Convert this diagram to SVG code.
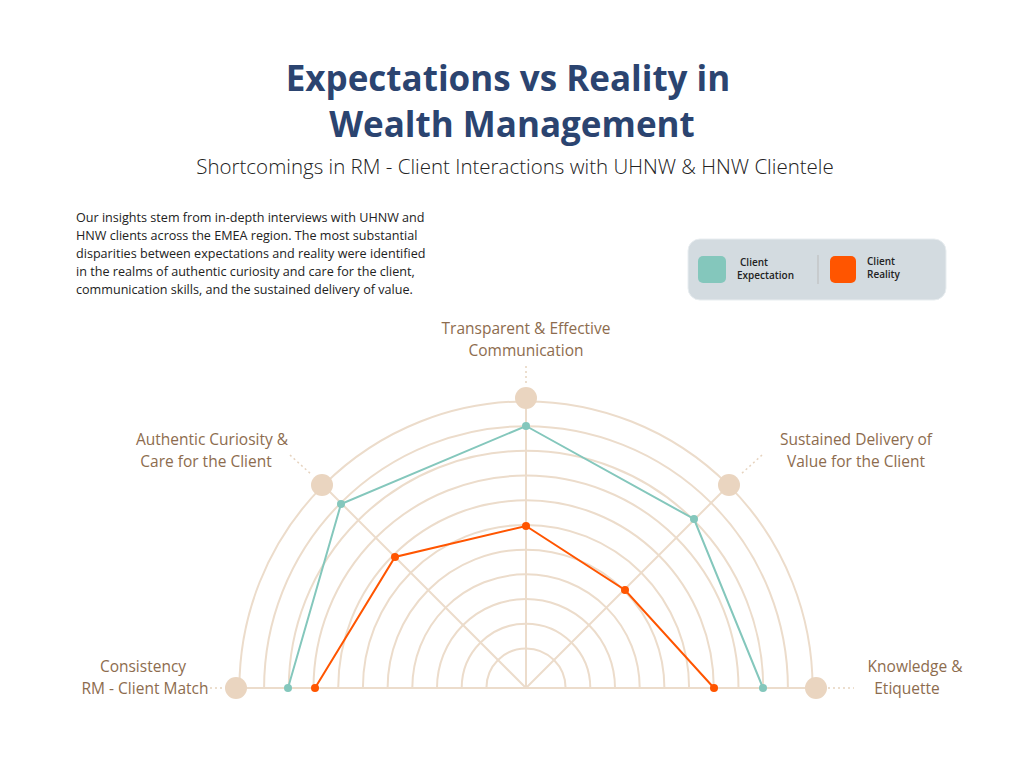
<svg xmlns="http://www.w3.org/2000/svg" width="1024" height="768" viewBox="0 0 1024 768">
<style>
.t{font-family:"Open Sans","Liberation Sans",sans-serif}
.ring{fill:none;stroke:#ecdccb;stroke-width:2}
.lab{font-family:"Open Sans","Liberation Sans",sans-serif;font-size:15.5px;fill:#8d6c4e;text-anchor:middle}
.lead{stroke:#e6d3bf;stroke-width:1.5;stroke-dasharray:2 3}
.big{fill:#ead5c0}
</style>
<rect width="1024" height="768" fill="#fff"/>
<g id="title">
<text class="t" x="508" y="91" font-size="35" font-weight="bold" fill="#2b4470" text-anchor="middle">Expectations vs Reality in</text>
<text class="t" x="512" y="137" font-size="35" font-weight="bold" fill="#2b4470" text-anchor="middle">Wealth Management</text>
<text class="t" x="515" y="174" font-size="20.5" font-weight="300" fill="#222" text-anchor="middle">Shortcomings in RM - Client Interactions with UHNW &amp; HNW Clientele</text>
</g>
<g id="intro" class="t" font-size="12.6" fill="#222">
<text x="76" y="222">Our insights stem from in-depth interviews with UHNW and</text>
<text x="76" y="240">HNW clients across the EMEA region. The most substantial</text>
<text x="76" y="258">disparities between expectations and reality were identified</text>
<text x="76" y="276">in the realms of authentic curiosity and care for the client,</text>
<text x="76" y="294">communication skills, and the sustained delivery of value.</text>
</g>
<g id="legend">
<rect x="688" y="239" width="258" height="61" rx="12" fill="#d3dbe0" stroke="#e8edf0"/>
<rect x="698" y="256" width="28" height="27" rx="5" fill="#84c7bc"/>
<text class="t" x="740" y="266" font-size="10" font-weight="600" fill="#222">Client</text>
<text class="t" x="737" y="279" font-size="10" font-weight="600" fill="#222">Expectation</text>
<line x1="818" y1="255" x2="818" y2="284" stroke="#bbb"/>
<rect x="830" y="256" width="26" height="27" rx="5" fill="#ff5500"/>
<text class="t" x="867" y="265" font-size="10" font-weight="600" fill="#222">Client</text>
<text class="t" x="867" y="278" font-size="10" font-weight="600" fill="#222">Reality</text>
</g>
<g id="grid">
<path class="ring" d="M486.4 688A39.6 39.6 0 0 1 565.6 688M461.7 688A64.3 64.3 0 0 1 590.3 688M437 688A89 89 0 0 1 615 688M412.3 688A113.7 113.7 0 0 1 639.7 688M387.6 688A138.4 138.4 0 0 1 664.4 688M362.9 688A163.1 163.1 0 0 1 689.1 688M338.2 688A187.8 187.8 0 0 1 713.8 688M313.5 688A212.5 212.5 0 0 1 738.5 688M288.8 688A237.2 237.2 0 0 1 763.2 688M264.1 688A261.9 261.9 0 0 1 787.9 688M239.4 688A286.6 286.6 0 0 1 812.6 688"/>
<path class="ring" d="M236 688H816M526 688V398M526 688L321 483M526 688L731 483"/>
</g>
<g id="axes">
<line class="lead" x1="210" y1="688" x2="226" y2="688"/>
<line class="lead" x1="828" y1="688" x2="854" y2="688"/>
<line class="lead" x1="526" y1="366" x2="526" y2="386"/>
<line class="lead" x1="290" y1="455" x2="312" y2="475"/>
<line class="lead" x1="762" y1="455" x2="740" y2="475"/>
<circle class="big" cx="236" cy="688" r="11"/>
<circle class="big" cx="816" cy="688" r="11"/>
<circle class="big" cx="526" cy="398" r="11"/>
<circle class="big" cx="322" cy="485" r="11"/>
<circle class="big" cx="729" cy="485" r="11"/>
<text class="lab" x="143" y="672">Consistency</text>
<text class="lab" x="145" y="694">RM - Client Match</text>
<text class="lab" x="915" y="672">Knowledge &amp;</text>
<text class="lab" x="907" y="694">Etiquette</text>
<text class="lab" x="526" y="334">Transparent &amp; Effective</text>
<text class="lab" x="526" y="356">Communication</text>
<text class="lab" x="212" y="445">Authentic Curiosity &amp;</text>
<text class="lab" x="206" y="467">Care for the Client</text>
<text class="lab" x="856" y="445">Sustained Delivery of</text>
<text class="lab" x="856" y="467">Value for the Client</text>
</g>
<g id="connectors">
<polyline points="288,688 341,504 526,426 694,519 763,688" fill="none" stroke="#84c7bc" stroke-width="2"/>
<polyline points="315,688 395,557 526,526 625,590 714,688" fill="none" stroke="#ff5500" stroke-width="2"/>
<g fill="#84c7bc"><circle cx="288" cy="688" r="4"/><circle cx="341" cy="504" r="4"/><circle cx="526" cy="426" r="4"/><circle cx="694" cy="519" r="4"/><circle cx="763" cy="688" r="4"/></g>
<g fill="#ff5500"><circle cx="315" cy="688" r="4"/><circle cx="395" cy="557" r="4"/><circle cx="526" cy="526" r="4"/><circle cx="625" cy="590" r="4"/><circle cx="714" cy="688" r="4"/></g>
</g>
</svg>
